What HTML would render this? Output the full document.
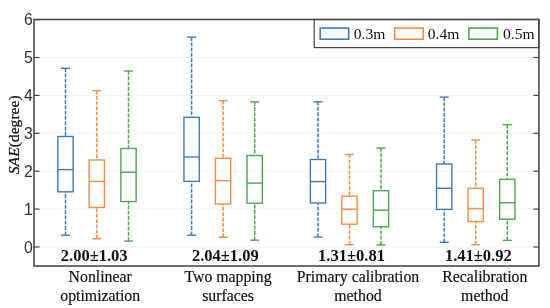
<!DOCTYPE html><html><head><meta charset="utf-8"><style>html,body{margin:0;padding:0;background:#fff;width:550px;height:308px;overflow:hidden}svg{display:block}</style></head><body>
<svg width="550" height="308" viewBox="0 0 550 308">
<rect x="0" y="0" width="550" height="308" fill="#fff"/>
<line x1="39.0" y1="247.00" x2="533.9" y2="247.00" stroke="#f2f2f2" stroke-width="1"/>
<line x1="39.0" y1="209.10" x2="533.9" y2="209.10" stroke="#f2f2f2" stroke-width="1"/>
<line x1="39.0" y1="171.20" x2="533.9" y2="171.20" stroke="#f2f2f2" stroke-width="1"/>
<line x1="39.0" y1="133.30" x2="533.9" y2="133.30" stroke="#f2f2f2" stroke-width="1"/>
<line x1="39.0" y1="95.40" x2="533.9" y2="95.40" stroke="#f2f2f2" stroke-width="1"/>
<line x1="39.0" y1="57.50" x2="533.9" y2="57.50" stroke="#f2f2f2" stroke-width="1"/>
<g stroke="#3d7bbf" stroke-width="1.4" fill="none">
<line x1="65.5" y1="68.3" x2="65.5" y2="136.5" stroke-dasharray="3.8 1.5" stroke-width="1.5"/>
<line x1="65.5" y1="235.2" x2="65.5" y2="191.8" stroke-dasharray="3.8 1.5" stroke-width="1.5"/>
<line x1="61.0" y1="68.3" x2="70.0" y2="68.3"/>
<line x1="61.0" y1="235.2" x2="70.0" y2="235.2"/>
<rect x="57.85" y="136.5" width="15.30" height="55.30"/>
<line x1="57.85" y1="169.6" x2="73.15" y2="169.6"/>
</g>
<g stroke="#fb8a3d" stroke-width="1.4" fill="none">
<line x1="96.8" y1="90.6" x2="96.8" y2="160.0" stroke-dasharray="3.8 1.5" stroke-width="1.5"/>
<line x1="96.8" y1="238.8" x2="96.8" y2="207.5" stroke-dasharray="3.8 1.5" stroke-width="1.5"/>
<line x1="92.3" y1="90.6" x2="101.3" y2="90.6"/>
<line x1="92.3" y1="238.8" x2="101.3" y2="238.8"/>
<rect x="89.15" y="160.0" width="15.30" height="47.50"/>
<line x1="89.15" y1="181.4" x2="104.45" y2="181.4"/>
</g>
<g stroke="#4ea64e" stroke-width="1.4" fill="none">
<line x1="128.5" y1="71.05" x2="128.5" y2="148.5" stroke-dasharray="3.8 1.5" stroke-width="1.5"/>
<line x1="128.5" y1="241.1" x2="128.5" y2="201.6" stroke-dasharray="3.8 1.5" stroke-width="1.5"/>
<line x1="124.0" y1="71.05" x2="133.0" y2="71.05"/>
<line x1="124.0" y1="241.1" x2="133.0" y2="241.1"/>
<rect x="120.85" y="148.5" width="15.30" height="53.10"/>
<line x1="120.85" y1="172.2" x2="136.15" y2="172.2"/>
</g>
<g stroke="#3d7bbf" stroke-width="1.4" fill="none">
<line x1="191.6" y1="37.1" x2="191.6" y2="117.3" stroke-dasharray="3.8 1.5" stroke-width="1.5"/>
<line x1="191.6" y1="235.2" x2="191.6" y2="181.4" stroke-dasharray="3.8 1.5" stroke-width="1.5"/>
<line x1="187.1" y1="37.1" x2="196.1" y2="37.1"/>
<line x1="187.1" y1="235.2" x2="196.1" y2="235.2"/>
<rect x="183.95" y="117.3" width="15.30" height="64.10"/>
<line x1="183.95" y1="157.0" x2="199.25" y2="157.0"/>
</g>
<g stroke="#fb8a3d" stroke-width="1.4" fill="none">
<line x1="223.1" y1="100.7" x2="223.1" y2="158.3" stroke-dasharray="3.8 1.5" stroke-width="1.5"/>
<line x1="223.1" y1="237.3" x2="223.1" y2="204.0" stroke-dasharray="3.8 1.5" stroke-width="1.5"/>
<line x1="218.6" y1="100.7" x2="227.6" y2="100.7"/>
<line x1="218.6" y1="237.3" x2="227.6" y2="237.3"/>
<rect x="215.45" y="158.3" width="15.30" height="45.70"/>
<line x1="215.45" y1="180.7" x2="230.75" y2="180.7"/>
</g>
<g stroke="#4ea64e" stroke-width="1.4" fill="none">
<line x1="254.7" y1="101.9" x2="254.7" y2="155.5" stroke-dasharray="3.8 1.5" stroke-width="1.5"/>
<line x1="254.7" y1="240.2" x2="254.7" y2="203.2" stroke-dasharray="3.8 1.5" stroke-width="1.5"/>
<line x1="250.2" y1="101.9" x2="259.2" y2="101.9"/>
<line x1="250.2" y1="240.2" x2="259.2" y2="240.2"/>
<rect x="247.05" y="155.5" width="15.30" height="47.70"/>
<line x1="247.05" y1="183.1" x2="262.35" y2="183.1"/>
</g>
<g stroke="#3d7bbf" stroke-width="1.4" fill="none">
<line x1="318.0" y1="101.75" x2="318.0" y2="159.5" stroke-dasharray="3.8 1.5" stroke-width="1.5"/>
<line x1="318.0" y1="237.1" x2="318.0" y2="203.0" stroke-dasharray="3.8 1.5" stroke-width="1.5"/>
<line x1="313.5" y1="101.75" x2="322.5" y2="101.75"/>
<line x1="313.5" y1="237.1" x2="322.5" y2="237.1"/>
<rect x="310.35" y="159.5" width="15.30" height="43.50"/>
<line x1="310.35" y1="181.6" x2="325.65" y2="181.6"/>
</g>
<g stroke="#fb8a3d" stroke-width="1.4" fill="none">
<line x1="349.5" y1="154.5" x2="349.5" y2="196.2" stroke-dasharray="3.8 1.5" stroke-width="1.5"/>
<line x1="349.5" y1="244.7" x2="349.5" y2="224.2" stroke-dasharray="3.8 1.5" stroke-width="1.5"/>
<line x1="345.0" y1="154.5" x2="354.0" y2="154.5"/>
<line x1="345.0" y1="244.7" x2="354.0" y2="244.7"/>
<rect x="341.85" y="196.2" width="15.30" height="28.00"/>
<line x1="341.85" y1="209.2" x2="357.15" y2="209.2"/>
</g>
<g stroke="#4ea64e" stroke-width="1.4" fill="none">
<line x1="381.0" y1="148.0" x2="381.0" y2="190.7" stroke-dasharray="3.8 1.5" stroke-width="1.5"/>
<line x1="381.0" y1="244.9" x2="381.0" y2="226.8" stroke-dasharray="3.8 1.5" stroke-width="1.5"/>
<line x1="376.5" y1="148.0" x2="385.5" y2="148.0"/>
<line x1="376.5" y1="244.9" x2="385.5" y2="244.9"/>
<rect x="373.35" y="190.7" width="15.30" height="36.10"/>
<line x1="373.35" y1="210.2" x2="388.65" y2="210.2"/>
</g>
<g stroke="#3d7bbf" stroke-width="1.4" fill="none">
<line x1="444.2" y1="97.1" x2="444.2" y2="164.0" stroke-dasharray="3.8 1.5" stroke-width="1.5"/>
<line x1="444.2" y1="242.3" x2="444.2" y2="209.4" stroke-dasharray="3.8 1.5" stroke-width="1.5"/>
<line x1="439.7" y1="97.1" x2="448.7" y2="97.1"/>
<line x1="439.7" y1="242.3" x2="448.7" y2="242.3"/>
<rect x="436.55" y="164.0" width="15.30" height="45.40"/>
<line x1="436.55" y1="188.3" x2="451.85" y2="188.3"/>
</g>
<g stroke="#fb8a3d" stroke-width="1.4" fill="none">
<line x1="475.7" y1="140.0" x2="475.7" y2="188.3" stroke-dasharray="3.8 1.5" stroke-width="1.5"/>
<line x1="475.7" y1="244.7" x2="475.7" y2="221.5" stroke-dasharray="3.8 1.5" stroke-width="1.5"/>
<line x1="471.2" y1="140.0" x2="480.2" y2="140.0"/>
<line x1="471.2" y1="244.7" x2="480.2" y2="244.7"/>
<rect x="468.05" y="188.3" width="15.30" height="33.20"/>
<line x1="468.05" y1="208.5" x2="483.35" y2="208.5"/>
</g>
<g stroke="#4ea64e" stroke-width="1.4" fill="none">
<line x1="507.3" y1="124.7" x2="507.3" y2="179.4" stroke-dasharray="3.8 1.5" stroke-width="1.5"/>
<line x1="507.3" y1="240.4" x2="507.3" y2="219.2" stroke-dasharray="3.8 1.5" stroke-width="1.5"/>
<line x1="502.8" y1="124.7" x2="511.8" y2="124.7"/>
<line x1="502.8" y1="240.4" x2="511.8" y2="240.4"/>
<rect x="499.65" y="179.4" width="15.30" height="39.80"/>
<line x1="499.65" y1="202.8" x2="514.95" y2="202.8"/>
</g>
<line x1="34.0" y1="247.00" x2="39.6" y2="247.00" stroke="#454545" stroke-width="1.2"/>
<line x1="533.3" y1="247.00" x2="538.9" y2="247.00" stroke="#454545" stroke-width="1.2"/>
<text x="32.9" y="252.50" text-anchor="end" font-family="Liberation Sans, Arial, sans-serif" font-size="15.8" fill="#333">0</text>
<line x1="34.0" y1="209.10" x2="39.6" y2="209.10" stroke="#454545" stroke-width="1.2"/>
<line x1="533.3" y1="209.10" x2="538.9" y2="209.10" stroke="#454545" stroke-width="1.2"/>
<text x="32.9" y="214.60" text-anchor="end" font-family="Liberation Sans, Arial, sans-serif" font-size="15.8" fill="#333">1</text>
<line x1="34.0" y1="171.20" x2="39.6" y2="171.20" stroke="#454545" stroke-width="1.2"/>
<line x1="533.3" y1="171.20" x2="538.9" y2="171.20" stroke="#454545" stroke-width="1.2"/>
<text x="32.9" y="176.70" text-anchor="end" font-family="Liberation Sans, Arial, sans-serif" font-size="15.8" fill="#333">2</text>
<line x1="34.0" y1="133.30" x2="39.6" y2="133.30" stroke="#454545" stroke-width="1.2"/>
<line x1="533.3" y1="133.30" x2="538.9" y2="133.30" stroke="#454545" stroke-width="1.2"/>
<text x="32.9" y="138.80" text-anchor="end" font-family="Liberation Sans, Arial, sans-serif" font-size="15.8" fill="#333">3</text>
<line x1="34.0" y1="95.40" x2="39.6" y2="95.40" stroke="#454545" stroke-width="1.2"/>
<line x1="533.3" y1="95.40" x2="538.9" y2="95.40" stroke="#454545" stroke-width="1.2"/>
<text x="32.9" y="100.90" text-anchor="end" font-family="Liberation Sans, Arial, sans-serif" font-size="15.8" fill="#333">4</text>
<line x1="34.0" y1="57.50" x2="39.6" y2="57.50" stroke="#454545" stroke-width="1.2"/>
<line x1="533.3" y1="57.50" x2="538.9" y2="57.50" stroke="#454545" stroke-width="1.2"/>
<text x="32.9" y="63.00" text-anchor="end" font-family="Liberation Sans, Arial, sans-serif" font-size="15.8" fill="#333">5</text>
<line x1="34.0" y1="19.60" x2="39.6" y2="19.60" stroke="#454545" stroke-width="1.2"/>
<line x1="533.3" y1="19.60" x2="538.9" y2="19.60" stroke="#454545" stroke-width="1.2"/>
<text x="32.9" y="25.10" text-anchor="end" font-family="Liberation Sans, Arial, sans-serif" font-size="15.8" fill="#333">6</text>
<text transform="translate(18.9,134.8) rotate(-90)" text-anchor="middle" font-family="Liberation Serif, Times New Roman, serif" font-size="15.6" fill="#111" stroke="#111" stroke-width="0.25"><tspan font-style="italic">SAE</tspan>(degree)</text>
<text x="94.2" y="260.7" text-anchor="middle" font-family="Liberation Serif, Times New Roman, serif" font-weight="bold" font-size="16.5" fill="#111">2.00±1.03</text>
<text x="225.3" y="260.7" text-anchor="middle" font-family="Liberation Serif, Times New Roman, serif" font-weight="bold" font-size="16.5" fill="#111">2.04±1.09</text>
<text x="351.5" y="260.7" text-anchor="middle" font-family="Liberation Serif, Times New Roman, serif" font-weight="bold" font-size="16.5" fill="#111">1.31±0.81</text>
<text x="478.3" y="260.7" text-anchor="middle" font-family="Liberation Serif, Times New Roman, serif" font-weight="bold" font-size="16.5" fill="#111">1.41±0.92</text>
<text x="100.2" y="282.3" text-anchor="middle" font-family="Liberation Serif, Times New Roman, serif" font-size="15.8" fill="#111" stroke="#111" stroke-width="0.18">Nonlinear</text>
<text x="100.2" y="300.5" text-anchor="middle" font-family="Liberation Serif, Times New Roman, serif" font-size="15.8" fill="#111" stroke="#111" stroke-width="0.18">optimization</text>
<text x="228.0" y="282.3" text-anchor="middle" font-family="Liberation Serif, Times New Roman, serif" font-size="15.8" fill="#111" stroke="#111" stroke-width="0.18">Two mapping</text>
<text x="228.0" y="300.5" text-anchor="middle" font-family="Liberation Serif, Times New Roman, serif" font-size="15.8" fill="#111" stroke="#111" stroke-width="0.18">surfaces</text>
<text x="358.0" y="282.3" text-anchor="middle" font-family="Liberation Serif, Times New Roman, serif" font-size="15.8" fill="#111" stroke="#111" stroke-width="0.18">Primary calibration</text>
<text x="358.0" y="300.5" text-anchor="middle" font-family="Liberation Serif, Times New Roman, serif" font-size="15.8" fill="#111" stroke="#111" stroke-width="0.18">method</text>
<text x="484.8" y="282.3" text-anchor="middle" font-family="Liberation Serif, Times New Roman, serif" font-size="15.8" fill="#111" stroke="#111" stroke-width="0.18">Recalibration</text>
<text x="484.8" y="300.5" text-anchor="middle" font-family="Liberation Serif, Times New Roman, serif" font-size="15.8" fill="#111" stroke="#111" stroke-width="0.18">method</text>
<rect x="314.2" y="19.5" width="224.7" height="28.1" fill="#fff" stroke="#454545" stroke-width="1.2"/>
<rect x="320.2" y="28.1" width="28.5" height="11.1" fill="none" stroke="#3d7bbf" stroke-width="1.6"/>
<text x="353.75" y="39.2" font-family="Liberation Serif, Times New Roman, serif" font-size="15.6" fill="#111">0.3m</text>
<rect x="394.7" y="28.1" width="28.5" height="11.1" fill="none" stroke="#fb8a3d" stroke-width="1.6"/>
<text x="427.7" y="39.2" font-family="Liberation Serif, Times New Roman, serif" font-size="15.6" fill="#111">0.4m</text>
<rect x="468.9" y="28.1" width="28.5" height="11.1" fill="none" stroke="#4ea64e" stroke-width="1.6"/>
<text x="503.0" y="39.2" font-family="Liberation Serif, Times New Roman, serif" font-size="15.6" fill="#111">0.5m</text>
<rect x="34.0" y="19.5" width="504.9" height="246.5" fill="none" stroke="#454545" stroke-width="1.55"/>
</svg></body></html>
